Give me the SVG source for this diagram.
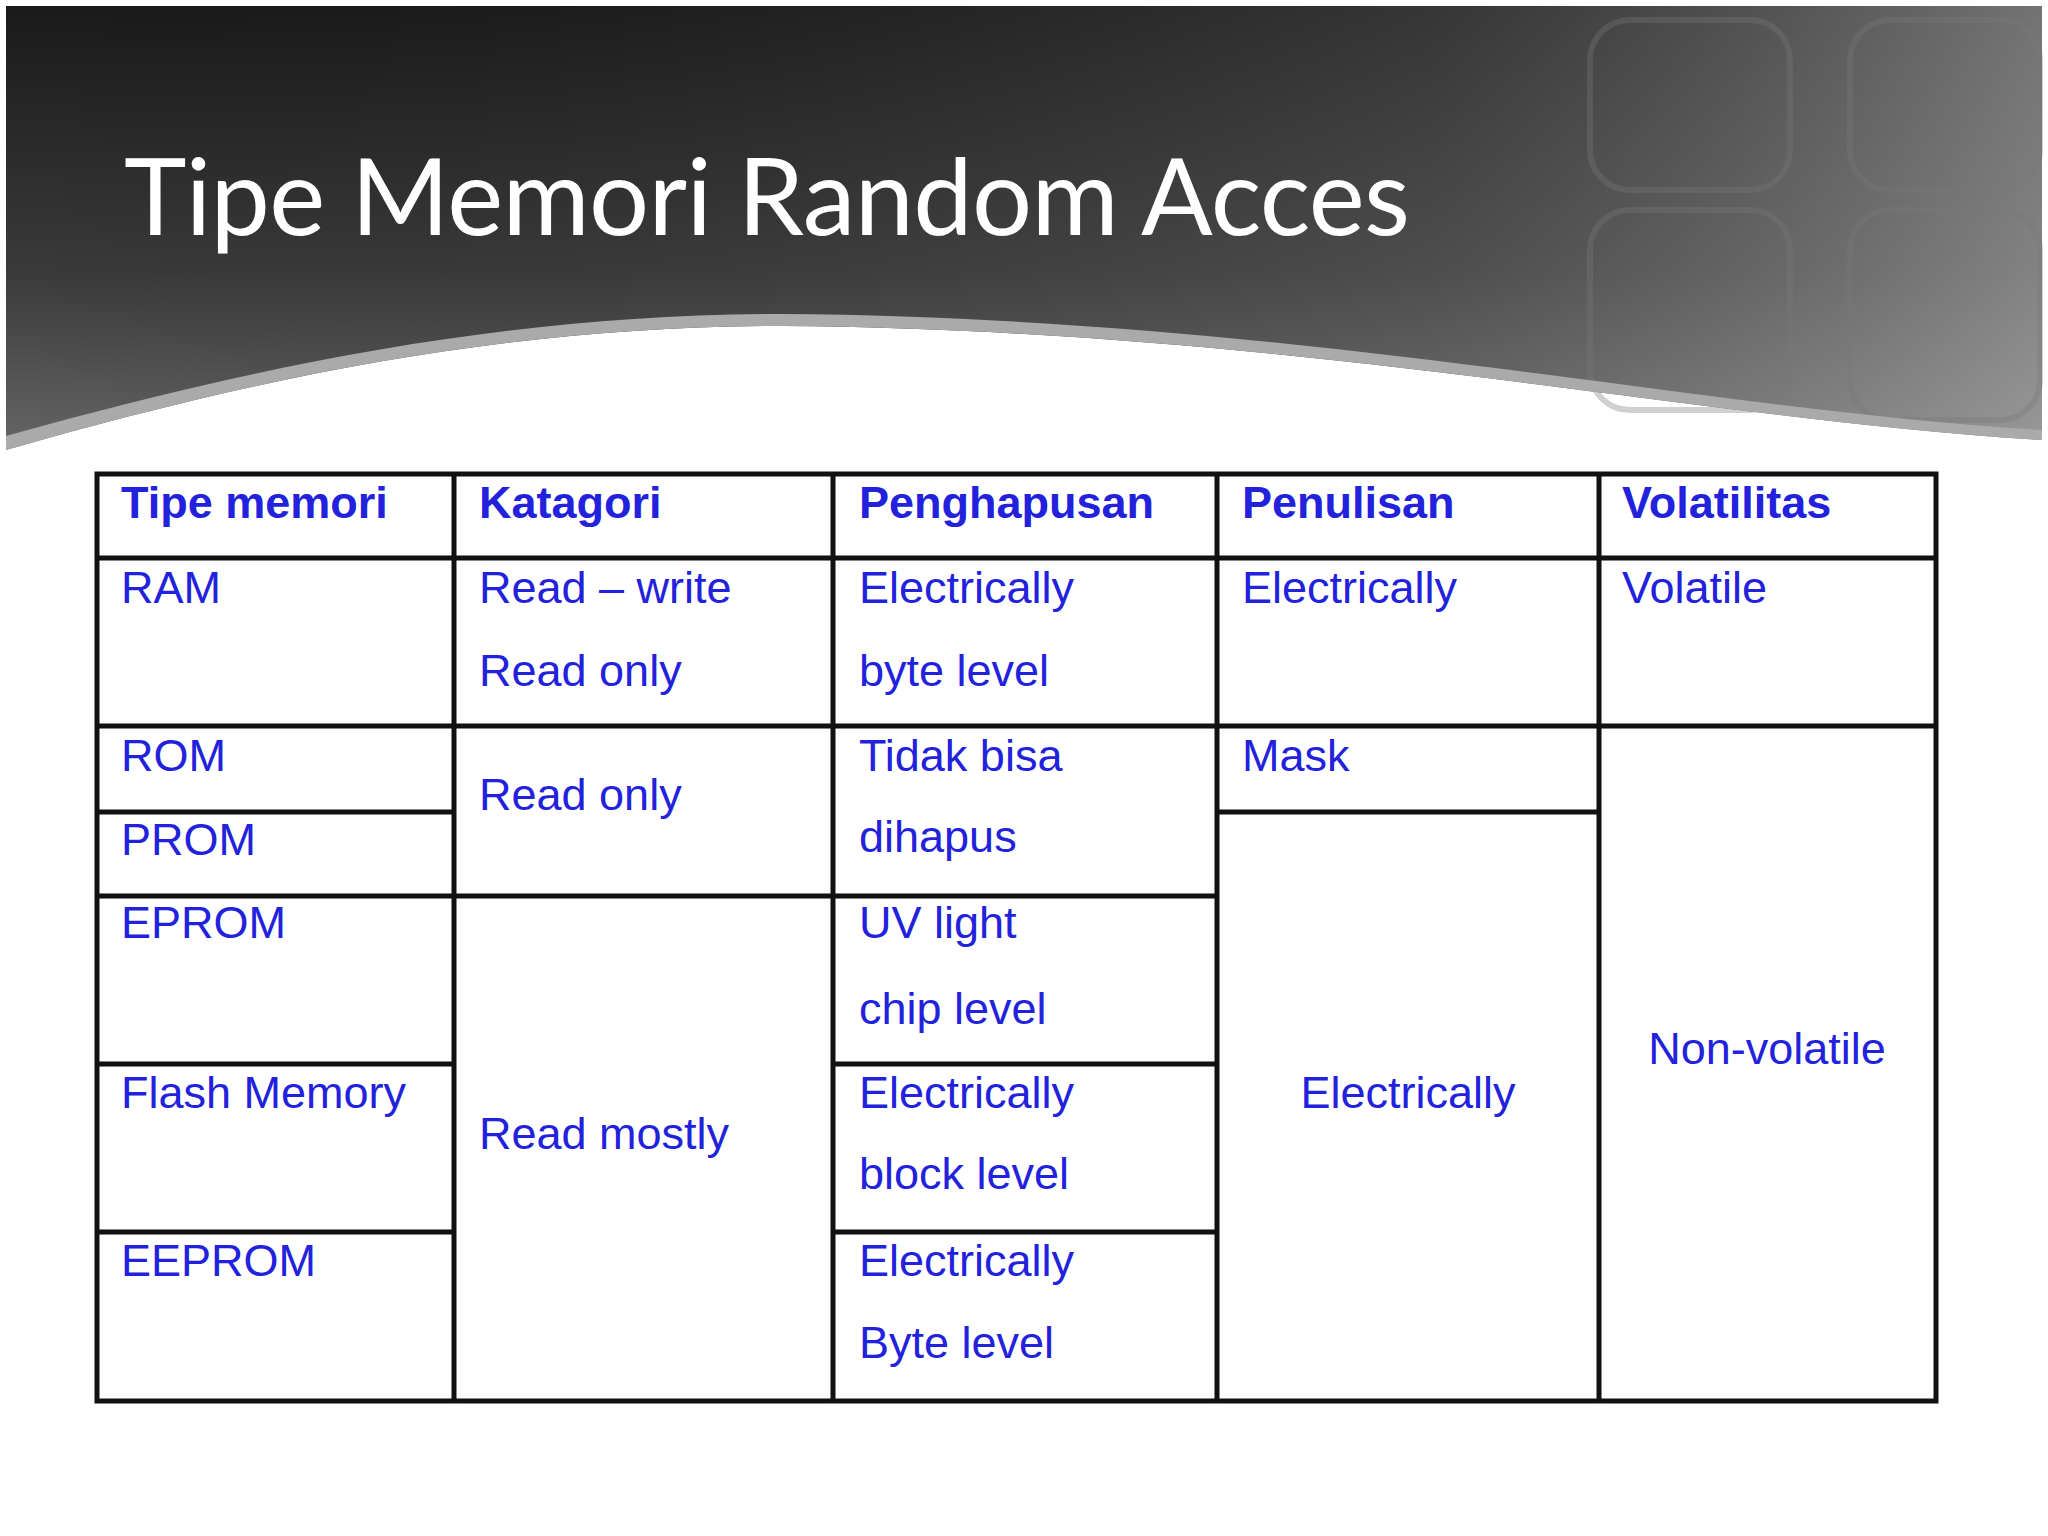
<svg xmlns="http://www.w3.org/2000/svg" width="2048" height="1536" viewBox="0 0 2048 1536">
<defs>
<linearGradient id="bg" x1="0" y1="0" x2="0" y2="1">
<stop offset="0" stop-color="#1a1a1a"/><stop offset="0.6" stop-color="#3a3a3a"/><stop offset="1" stop-color="#666"/>
</linearGradient>
<linearGradient id="rg" x1="0" y1="0" x2="1" y2="0">
<stop offset="0" stop-color="#000" stop-opacity="0"/><stop offset="0.7" stop-color="#888" stop-opacity="0.25"/><stop offset="1" stop-color="#ccc" stop-opacity="0.5"/>
</linearGradient>
<style>
.t{font-family:"Liberation Sans",Arial,sans-serif;font-size:45px;fill:#2222dd}
.h{font-weight:bold}
.g{stroke:#111;stroke-width:5;fill:none}
</style>
</defs>
<rect width="2048" height="1536" fill="#fff"/>
<g id="header">
<path d="M6 6 H2042 V440 C1700 420 1300 330 783 326 C500 326 250 380 6 450 Z" fill="url(#bg)"/>
<path d="M6 6 H2042 V440 C1700 420 1300 330 783 326 C500 326 250 380 6 450 Z" fill="url(#rg)"/>
<g fill="none" stroke="#777" stroke-opacity="0.35" stroke-width="6">
<rect x="1590" y="20" width="200" height="170" rx="40"/>
<rect x="1590" y="210" width="200" height="200" rx="40"/>
<rect x="1850" y="20" width="190" height="170" rx="40"/>
<rect x="1850" y="210" width="190" height="210" rx="40"/>
</g>
<path d="M6 450 C250 380 500 326 783 326 C1300 330 1700 420 2042 440 L2042 430 C1700 410 1300 318 783 314 C500 314 250 368 6 436 Z" fill="#aaa"/>
<text x="124" y="235" font-family="Lato,'Open Sans',sans-serif" font-size="106" fill="#fff" textLength="1286">Tipe Memori Random Acces</text>
</g>
<g id="table">
<rect x="97" y="474" width="1839" height="927" class="g"/>
<path class="g" d="M454 474V1401 M833 474V1401 M1217 474V1401 M1599 474V1401
M97 558H1936 M97 726H1936 M97 812H454 M1217 812H1599 M97 896H1217 M97 1064H454 M833 1064H1217 M97 1232H454 M833 1232H1217"/>
<g id="hdr">
<text class="t h" x="121" y="518">Tipe memori</text>
<text class="t h" x="479" y="518">Katagori</text>
<text class="t h" x="859" y="518">Penghapusan</text>
<text class="t h" x="1242" y="518">Penulisan</text>
<text class="t h" x="1622" y="518">Volatilitas</text>
</g>
<g id="cells">
<text class="t" x="121" y="603">RAM</text>
<text class="t" x="479" y="603">Read – write</text>
<text class="t" x="479" y="686">Read only</text>
<text class="t" x="859" y="603">Electrically</text>
<text class="t" x="859" y="686">byte level</text>
<text class="t" x="1242" y="603">Electrically</text>
<text class="t" x="1622" y="603">Volatile</text>
<text class="t" x="121" y="771">ROM</text>
<text class="t" x="121" y="855">PROM</text>
<text class="t" x="479" y="810">Read only</text>
<text class="t" x="859" y="771">Tidak bisa</text>
<text class="t" x="859" y="852">dihapus</text>
<text class="t" x="1242" y="771">Mask</text>
<text class="t" x="121" y="938">EPROM</text>
<text class="t" x="859" y="938">UV light</text>
<text class="t" x="859" y="1024">chip level</text>
<text class="t" x="121" y="1108">Flash Memory</text>
<text class="t" x="859" y="1108">Electrically</text>
<text class="t" x="859" y="1189">block level</text>
<text class="t" x="479" y="1149">Read mostly</text>
<text class="t" x="121" y="1276">EEPROM</text>
<text class="t" x="859" y="1276">Electrically</text>
<text class="t" x="859" y="1358">Byte level</text>
<text class="t" x="1408" y="1108" text-anchor="middle">Electrically</text>
<text class="t" x="1767" y="1064" text-anchor="middle">Non-volatile</text>
</g>
</g>
</svg>
